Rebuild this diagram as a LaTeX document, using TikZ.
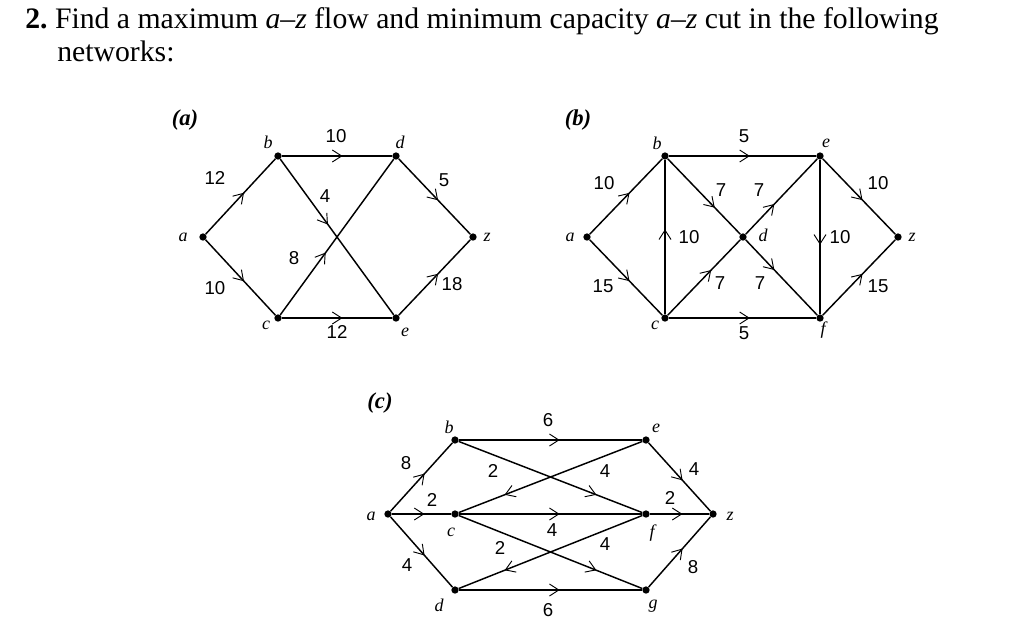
\documentclass[tikz,border=0pt]{standalone}
\usepackage{fontspec}
\setmainfont{Liberation Serif}
\newfontfamily\numf{Liberation Sans}
\usetikzlibrary{decorations.markings,arrows.meta}
\begin{document}
\begin{tikzpicture}[x=0.75pt,y=-0.75pt,
  vtx/.style={circle,fill=black,inner sep=0pt,minimum size=5.5pt},
  vl/.style={font=\fontsize{13.5}{13}\selectfont\itshape},
  wl/.style={font=\numf\fontsize{14}{14}\selectfont},
  hd/.style={font=\fontsize{17}{17}\selectfont\bfseries\itshape},
  ed/.style={line width=1.1pt,postaction={decorate},decoration={markings,mark=at position #1 with {\arrow{Straight Barb[length=7pt,width=9pt,line width=0.7pt]}}}},
  ed/.default=0.55]
\useasboundingbox (0,0) rectangle (1024,619);
\node[anchor=base west,font=\fontsize{22.3}{22}\selectfont,inner sep=0pt] (t1) at (25,28) {\textbf{2.}\ Find a maximum \textit{a}–\textit{z} flow and minimum capacity \textit{a}–\textit{z} cut in the following};
\node[anchor=base west,font=\fontsize{22.3}{22}\selectfont,inner sep=0pt] (t2) at (57,61) {networks:};
% (a)
\node[hd] (ha) at (185,120) {(a)};
\foreach \n/\x/\y in {a/203/237,b/278/156,d/396/156,z/473/237,c/278/318,e/396/318} \node[vtx] (A\n) at (\x,\y) {};
\draw[ed] (Aa)--(Ab); \draw[ed] (Aa)--(Ac); \draw[ed] (Ab)--(Ad); \draw[ed=0.42] (Ab)--(Ae);
\draw[ed=0.4] (Ac)--(Ad); \draw[ed] (Ac)--(Ae); \draw[ed] (Ad)--(Az); \draw[ed] (Ae)--(Az);
\foreach \t/\x/\y in {b/268/142,d/400/142,a/183/237,z/487/237,c/266/325,e/405/332} \node[vl] (LA\t) at (\x,\y) {\t};
\foreach \t/\x/\y/\k in {10/336/136/1,12/215/178/2,4/325/196/3,5/444/180/4,8/294/258/5,10/215/288/6,18/452/284/7,12/337/332/8} \node[wl] (WA\k) at (\x,\y) {\t};
% (b)
\node[hd] (hb) at (578,120) {(b)};
\foreach \n/\x/\y in {a/587/237,b/665/156,e/820/156,z/898/237,c/665/318,f/820/318,d/743/237} \node[vtx] (B\n) at (\x,\y) {};
\draw[ed] (Ba)--(Bb); \draw[ed] (Ba)--(Bc); \draw[ed] (Bb)--(Be); \draw[ed] (Bc)--(Bb);
\draw[ed=0.65] (Bb)--(Bd); \draw[ed=0.6] (Bc)--(Bd); \draw[ed=0.4] (Bd)--(Be); \draw[ed=0.4] (Bd)--(Bf);
\draw[ed] (Be)--(Bf); \draw[ed] (Bc)--(Bf); \draw[ed] (Be)--(Bz); \draw[ed] (Bf)--(Bz);
\foreach \t/\x/\y in {b/657/143,e/826/143,a/570/237,z/912/237,d/763/235,c/655/325,f/823/330} \node[vl] (LB\t) at (\x,\y) {\t};
\foreach \t/\x/\y/\k in {5/744/136/1,10/604/183/2,7/721/190/3,7/759/190/4,10/689/237/5,10/840/237/6,10/878/183/7,15/603/286/8,7/720/283/9,7/760/283/10,5/744/333/11,15/878/286/12} \node[wl] (WB\k) at (\x,\y) {\t};
% (c)
\node[hd] (hc) at (380,403) {(c)};
\foreach \n/\x/\y in {a/388/514,b/455/440,e/646/440,c/455/514,f/646/514,z/713/514,d/455/590,g/646/590} \node[vtx] (C\n) at (\x,\y) {};
\draw[ed] (Ca)--(Cb); \draw[ed] (Ca)--(Cc); \draw[ed] (Ca)--(Cd);
\draw[ed] (Cb)--(Ce); \draw[ed=0.75] (Cb)--(Cf); \draw[ed=0.75] (Ce)--(Cc);
\draw[ed=0.55] (Cc)--(Cf); \draw[ed=0.75] (Cc)--(Cg); \draw[ed=0.75] (Cf)--(Cd);
\draw[ed] (Cd)--(Cg); \draw[ed] (Ce)--(Cz); \draw[ed=0.55] (Cf)--(Cz); \draw[ed] (Cg)--(Cz);
\foreach \t/\x/\y in {b/449/427,e/656/428,a/371/516,z/730/516,c/451/532,f/652/533,d/439/605,g/653/606} \node[vl] (LC\t) at (\x,\y) {\t};
\foreach \t/\x/\y/\k in {6/548/420/1,8/406/463/2,2/493/471/3,4/605/471/4,4/694/469/5,2/432/500/6,2/670/498/7,4/552/530/8,2/500/548/9,4/605/544/10,4/407/565/11,8/693/567/12,6/548/610/13} \node[wl] (WC\k) at (\x,\y) {\t};
\end{tikzpicture}
\end{document}
